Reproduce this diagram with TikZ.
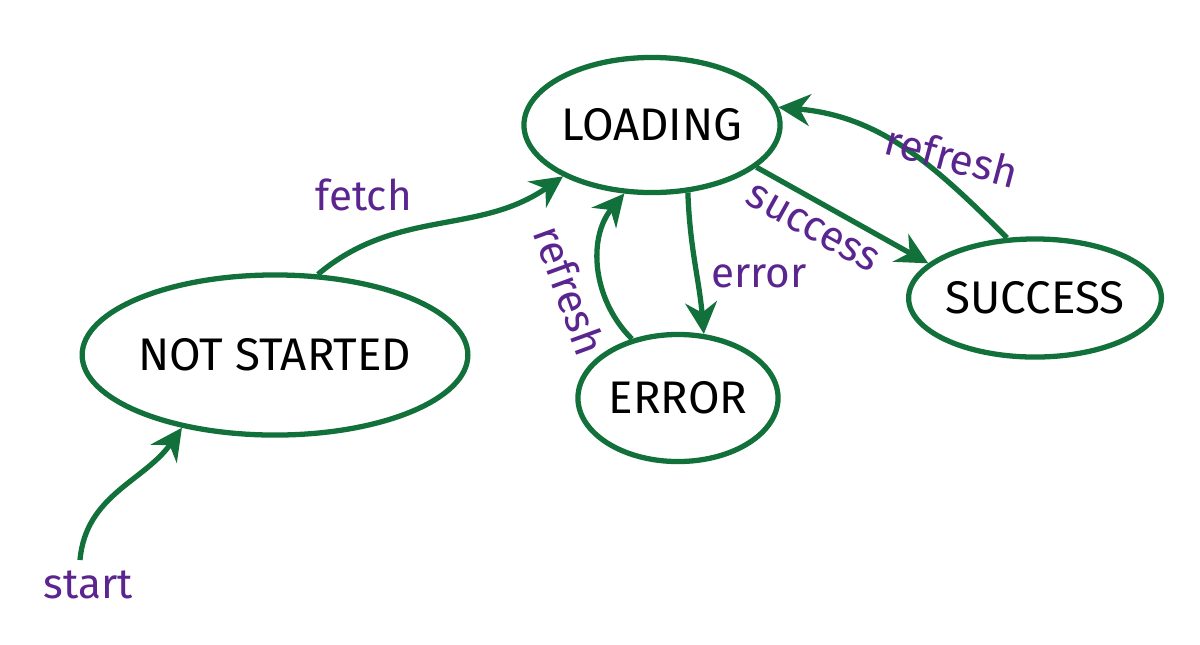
\documentclass[tikz,border=0pt]{standalone}
\usepackage{fontspec}
\setmainfont{Fira Sans}
\usetikzlibrary{shapes.geometric,arrows.meta}
\definecolor{gr}{HTML}{12703A}
\definecolor{pu}{HTML}{5B2590}
\tikzset{
 st/.style={ellipse,draw=gr,line width=1.5pt,inner sep=0pt,font=\fontsize{13}{15}\selectfont},
 tr/.style={draw=gr,line width=1.5pt,-{Stealth[length=9pt,width=9pt]}},
 lb/.style={text=pu,font=\fontsize{12}{14}\selectfont}
}
\begin{document}
\begin{tikzpicture}[x=0.01cm,y=0.01cm]
\useasboundingbox[fill=white] (0,0) rectangle (1200,644);
\node[st,minimum width=2.55cm,minimum height=1.35cm] (load) at (652,519) {LOADING};
\node[st,minimum width=3.6cm,minimum height=1.6cm] (ns) at (275,289) {NOT STARTED};
\node[st,minimum width=2.0cm,minimum height=1.27cm] (err) at (678,246) {ERROR};
\node[st,minimum width=2.34cm,minimum height=1.18cm] (suc) at (1035,346) {SUCCESS};
\coordinate (s) at (80,84);
\node[lb] (slab) at (88,59) {start};
\draw[tr] (s) to[out=85,in=-125] (ns.-142);
\draw[tr] (ns.62) to[out=40,in=-145] node[lb,above left,pos=0.45] {fetch} (load.-150);
\draw[tr] (err.128) to[out=135,in=-130] (load.-112);
\node[lb,rotate=-70] (rlab) at (570,354) {refresh};
\draw[tr] (load.-62) to[out=-88,in=95] node[lb,right,pos=0.6] {error} (err.68);
\draw[tr] (load.-22) -- node[lb,below,sloped,pos=0.4] {success} (suc.162);
\draw[tr] (suc.115) to[out=135,in=-5] (load.8);
\node[lb,rotate=-15] (rlab2) at (952,488) {refresh};
\end{tikzpicture}
\end{document}
